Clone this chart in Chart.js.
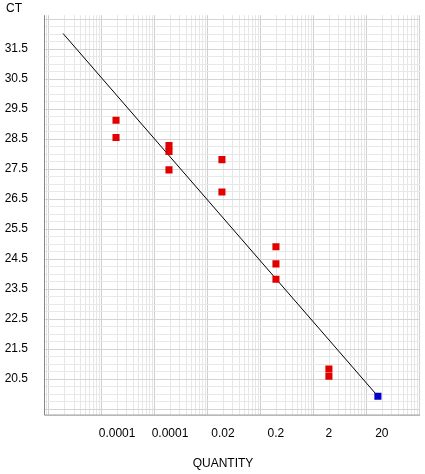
<!DOCTYPE html>
<html><head><meta charset="utf-8">
<script src="https://cdn.jsdelivr.net/npm/chart.js@4.4.0/dist/chart.umd.min.js"></script>
<style>html,body{margin:0;background:#fff}#wrap{width:425px;height:474px}</style>
</head><body><div id="wrap"><canvas id="c"></canvas></div>
<script>
// log10(quantity) positions of the standards and CT readings
const stdLogQty = [-3.72, -3.72, -2.72, -2.72, -2.72, -1.72, -1.72, -0.70, -0.70, -0.70, 0.30, 0.30];
const stdCt = [29.11, 28.54, 28.27, 28.07, 27.46, 27.80, 26.72, 24.90, 24.33, 23.82, 20.83, 20.59];
const unkLogQty = [1.225];
const unkCt = [19.92];
const fitLogQty = [-4.72, 1.225];
const fitCt = [32.0, 19.92];
const xTickPos = [-3.7, -2.7, -1.7, -0.7, 0.3, 1.3];
const xTickLabels = ['0.0001', '0.0001', '0.02', '0.2', '2', '20'];
const yTicks = [20.5, 21.5, 22.5, 23.5, 24.5, 25.5, 26.5, 27.5, 28.5, 29.5, 30.5, 31.5];

const pts = (xs, ys) => xs.map((x, i) => ({x: x, y: ys[i]}));
const font = {family: 'Arial, "Liberation Sans"', size: 12};

const gridPlugin = {
    id: 'grid',
    beforeDatasetsDraw(chart) {
        const {ctx, chartArea: a, scales: {x, y}} = chart;
        ctx.save();
        ctx.lineWidth = 1;
        for (let d = -6; d <= 2; d++) {
            for (let k = 1; k < 10; k++) {
                const px = Math.round(x.getPixelForValue(d + Math.log10(k))) + 0.5;
                if (px <= a.left || px >= a.right) continue;
                ctx.strokeStyle = k === 1 ? '#cfcfcf' : '#e6e6e6';
                ctx.beginPath(); ctx.moveTo(px, a.top); ctx.lineTo(px, a.bottom); ctx.stroke();
            }
        }
        for (let v = 19.5; v <= 32.5; v += 0.25) {
            const py = Math.round(y.getPixelForValue(v)) + 0.5;
            if (py <= a.top || py >= a.bottom) continue;
            ctx.strokeStyle = (v * 2) % 2 === 1 ? '#d4d4d4' : '#e8e8e8';
            ctx.beginPath(); ctx.moveTo(a.left, py); ctx.lineTo(a.right, py); ctx.stroke();
        }
        ctx.strokeStyle = '#888';
        ctx.beginPath();
        ctx.moveTo(a.left + 0.5, a.top); ctx.lineTo(a.left + 0.5, a.bottom + 0.5); ctx.lineTo(a.right, a.bottom + 0.5);
        ctx.stroke();
        ctx.fillStyle = '#000';
        ctx.font = '12px Arial, "Liberation Sans"';
        ctx.textAlign = 'center';
        ctx.fillText('CT', 14, 12);
        ctx.fillText('QUANTITY', 223, 467);
        ctx.restore();
    }
};

new Chart(document.getElementById('c'), {
    data: {
        datasets: [
            {type: 'line', data: pts(fitLogQty, fitCt), borderColor: '#000', borderWidth: 1, pointRadius: 0, order: 2},
            {type: 'scatter', data: pts(stdLogQty, stdCt), backgroundColor: '#e00000', borderWidth: 0, pointStyle: 'rect', pointRadius: 5, order: 1},
            {type: 'scatter', data: pts(unkLogQty, unkCt), backgroundColor: '#0000c8', borderWidth: 0, pointStyle: 'rect', pointRadius: 5, order: 0}
        ]
    },
    options: {
        responsive: true, maintainAspectRatio: false, animation: false,
        layout: {padding: {top: 15, right: 5, bottom: 29, left: 0}},
        plugins: {legend: {display: false}, tooltip: {enabled: false}},
        scales: {
            x: {
                type: 'linear', min: -5.08, max: 2.02,
                afterBuildTicks: s => { s.ticks = xTickPos.map(v => ({value: v})); },
                ticks: {callback: (v, i) => xTickLabels[i], color: '#000', font: font, padding: 4, maxRotation: 0},
                grid: {display: false},
                border: {display: false}
            },
            y: {
                type: 'linear', min: 19.31, max: 32.61,
                afterBuildTicks: s => { s.ticks = yTicks.map(v => ({value: v})); },
                afterFit: s => { s.width = 44; },
                ticks: {callback: v => v.toFixed(1), color: '#000', font: font, padding: 8},
                grid: {display: false},
                border: {display: false}
            }
        }
    },
    plugins: [gridPlugin]
});
</script></body></html>
